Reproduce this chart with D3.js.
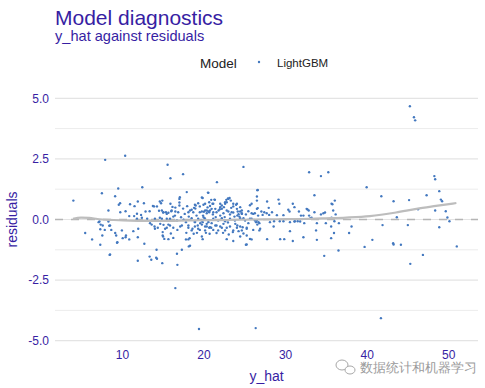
<!DOCTYPE html>
<html>
<head>
<meta charset="utf-8">
<script src="https://cdn.jsdelivr.net/npm/d3@7"></script>
<style>
  body { margin: 0; background: #fff; }
  text { font-family: "Liberation Sans", Arial, sans-serif; }
</style>
</head>
<body>
<svg width="485" height="388"></svg>
<script>
// y_hat, residual pairs
const yHat = [4.05,5.5,6.35,7.35,7.95,7.55,8.55,10.4,9.55,9.17,9.78,9.62,11.0,11.95,12.7,12.5,8.35,10.45,11.55,11.85,12.9,13.4,14.65,14.8,13.8,14.55,14.9,15.4,15.7,15.6,15.95,17.5,17.95,17.05,17.05,17.05,16.55,16.05,16.55,18.15,18.55,18.95,19.35,18.85,19.55,19.9,20.6,20.05,20.4,20.7,
  7.25,7.65,8.35,7.9,7.35,8.55,8.7,7.6,9.18,10.0,10.1,10.5,10.9,9.4,12.0,11.4,11.95,12.75,8.5,11.95,13.4,13.6,14.2,14.3,14.95,14.25,15.0,15.2,15.7,16.75,16.8,17.35,18.15,18.35,
  13.45,14.0,14.4,14.7,15.1,15.5,15.9,16.3,16.8,17.15,17.85,18.15,18.65,18.95,19.3,19.55,19.9,20.2,20.4,20.7,11.85,12.45,13.1,14.05,14.65,15.5,16.3,17.25,
  9.8,10.9,11.5,12.35,13.95,14.3,15.05,7.15,7.4,8.45,9.3,10.45,9.45,13.65,14.05,15.0,15.05,
  24.9,21.65,32.95,34.4,35.3,20.55,26.6,26.55,33.6,19.8,20.95,21.35,21.1,20.8,20.0,22.8,23.0,23.2,22.65,22.5,22.85,22.05,22.05,22.25,21.85,21.45,21.2,20.6,20.2,19.8,23.65,24.0,24.2,24.5,24.7,24.4,23.8,23.45,23.05,22.45,24.1,25.7,26.55,27.1,27.8,28.0,29.2,29.3,28.4,27.45,26.3,25.9,29.0,29.8,30.4,30.95,31.15,31.7,32.75,32.9,33.6,33.1,31.85,31.15,30.6,29.35,28.65,28.15,33.9,34.7,34.9,35.9,36.1,35.7,36.2,36.6,37.85,
  20.6,20.4,20.95,21.45,22.05,22.45,22.85,23.25,23.65,24.1,24.5,24.8,25.3,25.5,25.9,26.55,26.75,26.95,25.7,25.3,23.65,22.85,19.9,27.8,29.4,29.9,30.6,30.95,32.25,33.8,33.9,35.65,36.0,34.8,36.55,
  40.0,30.55,32.65,32.25,31.95,32.95,33.25,34.4,35.7,26.65,27.75,28.05,27.25,26.85,26.45,28.6,29.8,31.2,31.55,32.35,35.0,35.65,36.05,38.15,39.75,40.7,
  45.3,45.8,45.95,48.3,48.4,48.9,41.8,43.3,45.2,47.35,49.1,49.25,46.3,48.4,49.7,43.7,49.9,50.15,41.95,45.05,48.9,43.25,43.3,44.2,51.05,46.9,45.35,41.75,35.8,
  16.55,19.45,26.4,
  17.1,15.95,14.95,19.05,20.2,20.7,21.2,21.4,21.0,22.25,22.65,23.05,23.35,23.65,24.1,24.5,24.7,25.9,26.55,26.65,
  15.1,15.5,16.1,16.5,16.9,17.7,18.35,18.75,19.15,19.55,19.95,20.4,20.8,21.15,21.6,22.05,22.85,23.25,23.65,24.15,24.7,25.2,25.5,26.1,26.7,
  14.9,15.9,16.75,17.55,18.55,18.95,19.35,19.75,20.15,20.6,21.2,21.8,22.25,22.65,23.25,23.85,24.5,25.1,25.7,26.3,
  15.3,15.7,17.35,18.15,18.55,18.95,19.35,19.8,20.2,20.8,21.2,21.6,22.25,22.65,24.15,24.7,25.3,26.1,26.6,
  16.3,17.85,18.3,18.8,19.8,20.75,21.6,23.6,24.3,24.5,25.3,25.9,25.2,26.85,18.2,
  18.2,19.0,19.6,20.0,20.5,21.0,21.5,22.0,22.6,23.0,23.4,23.9,24.3,24.9,21.8,20.3,19.2,22.4,23.1,24.9,17.5,18.0,16.2,17.9,16.0];
const residuals = [0.78,-0.56,-0.82,-1.04,2.46,1.08,-1.44,2.63,1.28,0.96,0.67,0.61,0.63,0.74,0.67,1.33,0.37,0.34,0.55,0.24,0.33,0.34,0.74,0.67,0.56,0.36,0.37,0.30,0.28,2.26,1.70,1.87,1.13,0.85,0.70,0.58,0.49,0.34,0.33,0.30,0.40,0.61,0.67,0.48,0.54,0.89,1.10,0.32,0.37,0.30,
  -0.08,-0.25,-0.08,-0.43,-0.40,-0.25,-0.43,-0.66,-0.56,-0.45,-0.77,-0.66,-0.82,-0.96,-0.38,-0.48,-0.73,-1.0,-1.46,-1.70,-1.53,-1.66,-1.58,-1.62,-1.80,-1.25,-0.66,-0.80,-0.81,-1.41,-1.87,-1.25,-0.82,-1.08,
  -0.15,-0.29,-0.34,-0.18,-0.22,-0.34,-0.25,-0.34,-0.43,-0.29,-0.11,-0.25,-0.38,-0.11,-0.25,-0.43,-0.11,-0.29,-0.18,-0.34,0.03,0.07,0.03,0.03,0.07,0.03,0.12,0.09,
  0.30,0.14,0.14,0.19,0.54,0.54,0.29,-0.11,-0.21,-0.26,-0.66,-0.73,-0.94,-0.21,-0.38,-0.52,-0.70,
  2.17,1.54,1.95,1.79,1.95,1.11,1.21,0.95,1.00,0.91,0.81,0.82,0.65,0.56,0.61,0.81,0.87,0.89,0.65,0.51,0.71,0.65,0.51,0.44,0.37,0.44,0.30,0.33,0.37,0.33,0.65,0.61,0.33,0.33,0.23,0.12,0.12,0.30,0.33,0.26,0.44,0.59,0.44,0.33,0.74,0.48,0.82,0.65,0.30,0.30,0.26,0.26,0.18,0.18,0.40,0.65,0.51,0.33,0.41,0.37,0.30,0.05,-0.08,-0.08,-0.11,-0.07,-0.07,-0.11,-0.15,0.26,0.29,0.37,0.78,0.65,0.21,-0.15,-0.56,
  -0.11,-0.29,-0.34,-0.25,-0.29,-0.18,-0.34,-0.29,-0.45,-0.34,-0.29,-0.32,-0.38,-0.15,0.03,-0.04,-0.11,-0.38,-0.80,-1.03,-0.89,-0.81,-0.81,-0.81,-0.81,-0.81,-0.48,-0.89,-0.73,-0.45,-0.84,-0.77,-0.56,-1.50,-1.28,
  1.33,0.33,0.44,0.16,0.16,0.16,0.07,0.21,0.07,0.47,0.26,0.19,0.19,-0.15,-0.11,-0.29,-0.07,-0.07,-0.07,-0.15,-0.15,-0.29,-0.07,-0.29,-1.13,-0.84,
  4.67,4.22,4.09,1.79,1.66,1.17,0.96,0.75,0.80,1.00,0.82,0.75,0.42,0.37,0.34,0.09,0.08,-0.07,-0.23,-0.23,-0.32,-0.98,-1.03,-1.04,-1.11,-1.46,-1.83,-4.07,0.63,
  -2.83,-4.52,-4.48,
  0.92,0.65,0.78,0.58,0.65,0.71,0.65,0.81,0.44,0.58,0.71,0.85,0.78,0.54,0.65,0.51,0.37,0.65,0.78,1.22,
  0.30,0.23,0.37,0.16,0.30,0.23,0.37,0.30,0.16,0.30,0.16,0.26,0.37,0.21,0.30,0.16,0.37,0.21,0.29,0.16,0.26,0.21,0.34,0.23,0.16,
  0.03,0.03,-0.04,-0.01,0.05,-0.07,0.03,-0.04,0.05,-0.04,0.03,-0.04,0.05,-0.07,0.03,-0.04,0.05,-0.04,0.03,-0.04,
  -0.38,-0.21,-0.25,-0.34,-0.45,-0.29,-0.38,-0.21,-0.45,-0.32,-0.43,-0.25,-0.34,-0.45,-0.25,-0.45,-0.34,-0.43,-0.21,
  -0.76,-0.82,-0.77,-0.59,-0.70,-0.59,-0.56,-0.52,-0.48,-0.70,-0.66,-0.82,-1.04,-0.45,-1.11,
  0.12,0.45,-0.15,0.10,0.50,-0.15,0.10,0.42,0.10,-0.12,0.48,-0.18,0.22,0.05,-0.45,-0.55,-0.55,-0.55,-0.62,-0.58,0.45,0.55,0.52,-0.55,-0.58];

// smooth trend line
const smoothX = [4.0,5.0,6.0,7.0,9.0,11.0,13.0,15.0,17.0,20.0,23.0,26.0,29.0,32.0,35.0,37.5,40.4,43.6,46.1,48.5,51.0];
const smoothY = [0.03,0.08,0.07,0.02,-0.02,-0.05,-0.06,-0.06,-0.05,-0.03,-0.02,0.0,0.01,0.02,0.05,0.08,0.14,0.29,0.44,0.56,0.68];

const xTicks = [10, 20, 30, 40, 50];
const yTicks = [-5, -2.5, 0, 2.5, 5];
const yMinor = [-3.75, -1.25, 1.25, 3.75];

const purple = '#371ea3';
const blue = '#4378bf';

const svg = d3.select('svg');
const plotLeft = 55, plotRight = 478, plotBottom = 345;

const x = d3.scaleLinear().domain([1.8, 53.65]).range([plotLeft, plotRight]);
const y = d3.scaleLinear().domain([-5, 5]).range([340.7, 98.3]);

// grid
svg.append('g').selectAll('line')
  .data(yMinor)
  .join('line')
  .attr('x1', plotLeft).attr('x2', plotRight)
  .attr('y1', d => y(d)).attr('y2', d => y(d))
  .attr('stroke', '#ececec').attr('stroke-width', 1);
svg.append('g').selectAll('line')
  .data(yTicks)
  .join('line')
  .attr('x1', plotLeft).attr('x2', plotRight)
  .attr('y1', d => y(d)).attr('y2', d => y(d))
  .attr('stroke', '#e4e4e4').attr('stroke-width', 1.2);

// axes (text only)
const yAxis = svg.append('g')
  .attr('transform', `translate(${plotLeft - 3},0)`)
  .call(d3.axisLeft(y).tickValues(yTicks).tickSize(0));
yAxis.select('.domain').remove();
yAxis.selectAll('text')
  .attr('fill', purple).attr('font-size', 12)
  .text(d => d3.format('.1f')(d).replace('−', '-'));

const xAxis = svg.append('g')
  .attr('transform', `translate(0,${plotBottom + 2})`)
  .call(d3.axisBottom(x).tickValues(xTicks).tickSize(0));
xAxis.select('.domain').remove();
xAxis.selectAll('text').attr('fill', purple).attr('font-size', 12);

// reference line at zero
svg.append('line')
  .attr('x1', plotLeft).attr('x2', plotRight)
  .attr('y1', y(0)).attr('y2', y(0))
  .attr('stroke', '#b5b5b5').attr('stroke-width', 1.3)
  .attr('stroke-dasharray', '8,8');

// points
const pts = yHat.map((d, i) => ({x: d, y: residuals[i]}));
svg.append('g').selectAll('circle')
  .data(pts)
  .join('circle')
  .attr('cx', d => x(d.x))
  .attr('cy', d => y(d.y))
  .attr('r', 1.2)
  .attr('fill', blue);

// smooth
const line = d3.line()
  .x(d => x(d[0]))
  .y(d => y(d[1]))
  .curve(d3.curveMonotoneX);
svg.append('path')
  .attr('d', line(smoothX.map((d, i) => [d, smoothY[i]])))
  .attr('fill', 'none')
  .attr('stroke', '#bdbdbd')
  .attr('stroke-width', 2.2);

// titles
svg.append('text').attr('x', 55).attr('y', 25)
  .attr('fill', purple).attr('font-size', 21)
  .text('Model diagnostics');
svg.append('text').attr('x', 55).attr('y', 41)
  .attr('fill', purple).attr('font-size', 14.6)
  .text('y_hat against residuals');

// legend
svg.append('text').attr('x', 200).attr('y', 68)
  .attr('fill', '#222').attr('font-size', 13.5)
  .text('Model');
svg.append('circle').attr('cx', 259).attr('cy', 62).attr('r', 1.2).attr('fill', blue);
svg.append('text').attr('x', 277).attr('y', 67)
  .attr('fill', '#222').attr('font-size', 11.5)
  .text('LightGBM');

// axis titles
svg.append('text').attr('x', (plotLeft + plotRight) / 2).attr('y', 381)
  .attr('text-anchor', 'middle')
  .attr('fill', purple).attr('font-size', 14)
  .text('y_hat');
svg.append('text')
  .attr('transform', `translate(17,${y(0)}) rotate(-90)`)
  .attr('text-anchor', 'middle')
  .attr('fill', purple).attr('font-size', 14)
  .text('residuals');

// watermark
const wm = svg.append('g').attr('opacity', 0.85);
wm.append('ellipse').attr('cx', 342).attr('cy', 365).attr('rx', 6).attr('ry', 5)
  .attr('fill', 'none').attr('stroke', '#999').attr('stroke-width', 1);
wm.append('ellipse').attr('cx', 350).attr('cy', 370).attr('rx', 5).attr('ry', 4)
  .attr('fill', '#fff').attr('stroke', '#999').attr('stroke-width', 1);
wm.append('text').attr('x', 360).attr('y', 372)
  .attr('font-family', 'Noto Sans CJK SC').attr('font-size', 12.5)
  .attr('fill', '#8a8a8a').attr('stroke', '#fff').attr('stroke-width', 0.6)
  .attr('paint-order', 'stroke')
  .text('数据统计和机器学习');
</script>
</body>
</html>
